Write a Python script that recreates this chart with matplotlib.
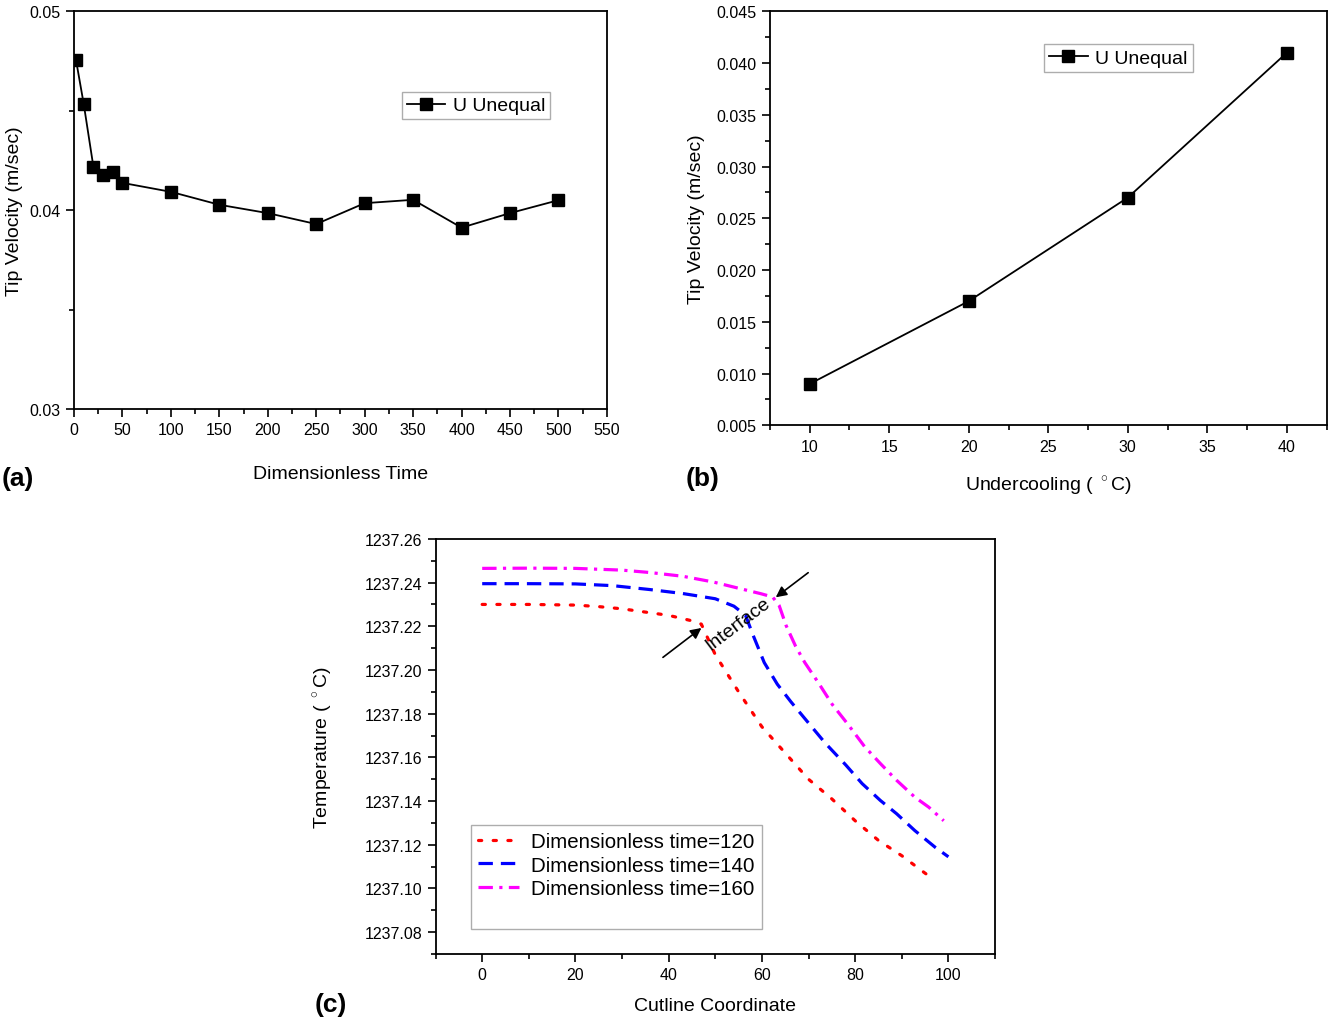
import numpy as np
import matplotlib
matplotlib.use("Agg")
import matplotlib.pyplot as plt
from matplotlib.lines import Line2D
from matplotlib.ticker import MultipleLocator, FormatStrFormatter

plt.rcParams['font.family'] = ['Liberation Sans', 'DejaVu Sans']
plt.rcParams['mathtext.fontset'] = 'custom'
plt.rcParams['mathtext.rm'] = 'Liberation Sans'

# (a) tip velocity vs dimensionless time
time_a = [2, 10, 20, 30, 40, 50, 100, 150, 200, 250, 300, 350, 400, 450, 500]
vel_a = [0.04755, 0.04533, 0.04217, 0.04179, 0.04192, 0.04137, 0.04092, 0.04027,
         0.03985, 0.03930, 0.04035, 0.04052, 0.03912, 0.03985, 0.04050]

# (b) tip velocity vs undercooling
under_b = [10, 20, 30, 40]
vel_b = [0.009, 0.017, 0.027, 0.041]

# (c) temperature along the cutline
x120 = [0, 10, 20, 25, 30, 35, 40, 45, 47, 50, 55, 60, 65, 70, 75, 80, 85, 90, 95, 97]
t120 = [1237.230, 1237.230, 1237.2297, 1237.229, 1237.228, 1237.2265, 1237.225, 1237.2225,
        1237.221, 1237.207, 1237.190, 1237.174, 1237.162, 1237.150, 1237.141, 1237.131,
        1237.122, 1237.115, 1237.107, 1237.104]
x140 = [0, 10, 20, 28, 36, 43, 50, 54, 56.5, 58, 60.5, 63.3, 66.2, 69.7, 73.6, 78, 81.5,
        85.4, 88.9, 92.8, 97.2, 100]
t140 = [1237.2395, 1237.2395, 1237.2394, 1237.2386, 1237.2368, 1237.235, 1237.2326,
        1237.2292, 1237.225, 1237.2165, 1237.2034, 1237.1935, 1237.1855, 1237.1765,
        1237.1665, 1237.1565, 1237.148, 1237.1403, 1237.1342, 1237.1265, 1237.1188, 1237.1145]
x160 = [0, 10, 20, 30, 36, 43, 49.5, 55.4, 59.8, 62.3, 63.7, 65.2, 67.2, 69.2, 72.1, 75.1,
        78.5, 82, 85.4, 88.9, 92.8, 95.8, 99]
t160 = [1237.2465, 1237.2466, 1237.2465, 1237.2457, 1237.2446, 1237.2429, 1237.2403,
        1237.2372, 1237.2349, 1237.2334, 1237.2295, 1237.2203, 1237.211, 1237.2034,
        1237.1942, 1237.1842, 1237.175, 1237.165, 1237.1572, 1237.1495, 1237.1418,
        1237.1372, 1237.131]
labels_c = ["Dimensionless time=120", "Dimensionless time=140", "Dimensionless time=160"]

fig = plt.figure(figsize=(13.32, 10.2), dpi=100)
ax_a = fig.add_axes([0.0556, 0.598, 0.400, 0.390])
ax_b = fig.add_axes([0.578, 0.582, 0.418, 0.406])
ax_c = fig.add_axes([0.327, 0.0637, 0.420, 0.407])


def style(ax):
    for s in ax.spines.values():
        s.set_linewidth(1.3)
    ax.tick_params(which='both', direction='out', top=False, right=False,
                   labelsize=11.5, width=1.2)
    ax.tick_params(which='major', length=6)
    ax.tick_params(which='minor', length=3.5)


leg_kw = dict(frameon=True, fancybox=False, edgecolor='#999999', borderaxespad=0,
              handlelength=2.0, handletextpad=0.4)

# --- (a)
ax_a.plot(time_a, vel_a, color='black', lw=1.3, marker='s', ms=8, label='U Unequal')
ax_a.set_xlim(0, 550)
ax_a.set_ylim(0.03, 0.05)
ax_a.xaxis.set_major_locator(MultipleLocator(50))
ax_a.xaxis.set_minor_locator(MultipleLocator(25))
ax_a.yaxis.set_major_locator(MultipleLocator(0.01))
ax_a.yaxis.set_minor_locator(MultipleLocator(0.005))
ax_a.yaxis.set_major_formatter(FormatStrFormatter('%.2f'))
style(ax_a)
ax_a.set_xlabel('Dimensionless Time', fontsize=14, labelpad=20)
ax_a.set_ylabel('Tip Velocity (m/sec)', fontsize=14, labelpad=5)
ax_a.legend(loc='upper left', bbox_to_anchor=(0.615, 0.797), fontsize=14,
            borderpad=0.25, **leg_kw)

# --- (b)
ax_b.plot(under_b, vel_b, color='black', lw=1.3, marker='s', ms=8, label='U Unequal')
ax_b.set_xlim(7.5, 42.5)
ax_b.set_ylim(0.005, 0.045)
ax_b.xaxis.set_major_locator(MultipleLocator(5))
ax_b.xaxis.set_minor_locator(MultipleLocator(2.5))
ax_b.yaxis.set_major_locator(MultipleLocator(0.005))
ax_b.yaxis.set_minor_locator(MultipleLocator(0.0025))
ax_b.yaxis.set_major_formatter(FormatStrFormatter('%.3f'))
style(ax_b)
ax_b.set_xlabel(r'Undercooling ( $^\circ$C)', fontsize=14, labelpad=14)
ax_b.set_ylabel('Tip Velocity (m/sec)', fontsize=14, labelpad=8)
ax_b.legend(loc='upper left', bbox_to_anchor=(0.492, 0.920), fontsize=14,
            borderpad=0.25, **leg_kw)

# --- (c)
ax_c.plot(x120, t120, color='red', lw=2.3, linestyle=(0, (1, 3.6)),
          dash_capstyle='round', label=labels_c[0])
ax_c.plot(x140, t140, color='blue', lw=2.3, linestyle=(0, (4.5, 2.5)), label=labels_c[1])
ax_c.plot(x160, t160, color='magenta', lw=2.3, linestyle=(0, (4.5, 2, 1, 2)),
          label=labels_c[2])
ax_c.set_xlim(-10, 110)
ax_c.set_ylim(1237.07, 1237.26)
ax_c.xaxis.set_major_locator(MultipleLocator(20))
ax_c.xaxis.set_minor_locator(MultipleLocator(10))
ax_c.yaxis.set_major_locator(MultipleLocator(0.02))
ax_c.yaxis.set_minor_locator(MultipleLocator(0.01))
ax_c.yaxis.set_major_formatter(FormatStrFormatter('%.2f'))
style(ax_c)
ax_c.set_xlabel('Cutline Coordinate', fontsize=14, labelpad=11)
ax_c.set_ylabel(r'Temperature ( $^\circ$C)', fontsize=14, labelpad=22)

handles, labs = ax_c.get_legend_handles_labels()
handles.append(Line2D([], [], color='none'))
labs.append(' ')
leg_c = dict(leg_kw, handletextpad=0.6)
ax_c.legend(handles, labs, loc='upper left', bbox_to_anchor=(0.063, 0.311),
            fontsize=14.8, labelspacing=0.22, borderpad=0.35, **leg_c)

ax_c.annotate('', xy=(47.5, 1237.220), xytext=(38.3, 1237.205),
              arrowprops=dict(arrowstyle='-|>', color='black', lw=1.2, mutation_scale=16))
ax_c.annotate('', xy=(62.5, 1237.2325), xytext=(70.4, 1237.2453),
              arrowprops=dict(arrowstyle='-|>', color='black', lw=1.2, mutation_scale=16))
ax_c.text(54.8, 1237.2215, 'Interface', rotation=37, fontsize=14,
          ha='center', va='center')

# panel letters
fig.text(0.001, 0.530, '(a)', fontsize=19, fontweight='bold', va='center')
fig.text(0.515, 0.530, '(b)', fontsize=19, fontweight='bold', va='center')
fig.text(0.236, 0.015, '(c)', fontsize=19, fontweight='bold', va='center')

fig.savefig('out.png', dpi=100)
